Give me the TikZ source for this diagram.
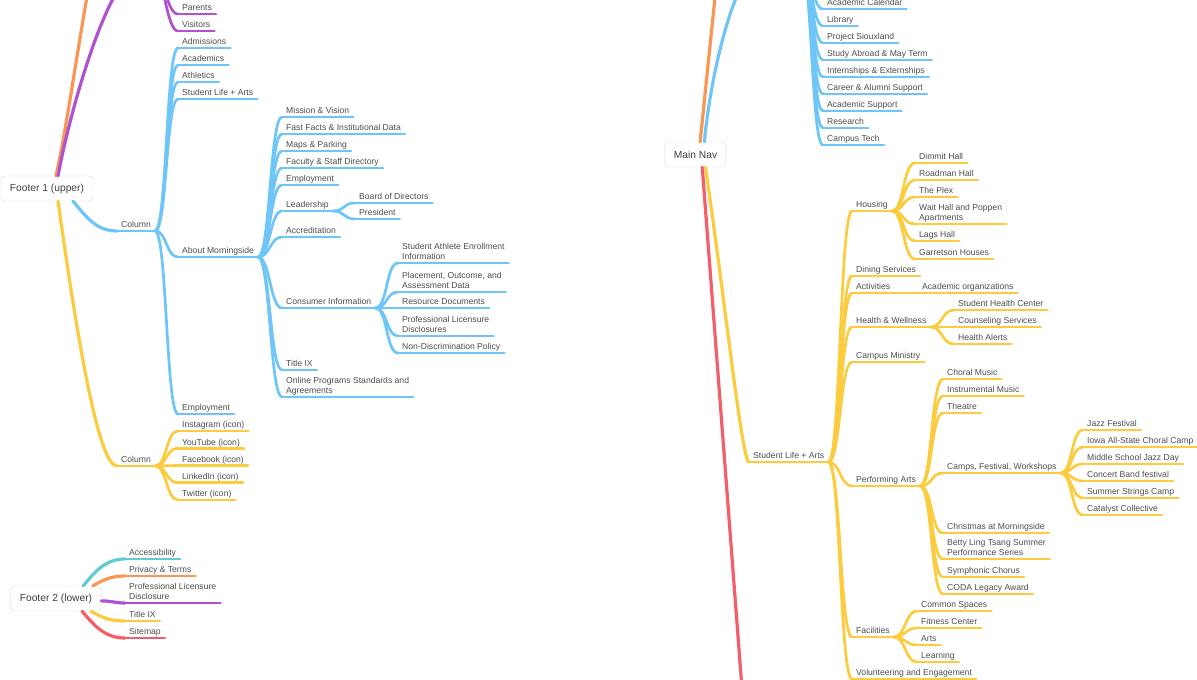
\documentclass[tikz,border=0pt]{standalone}
\usepackage{fontspec}
\setmainfont{Liberation Sans}

\definecolor{cblue}{RGB}{110,198,248}
\definecolor{cyellow}{RGB}{252,204,62}
\definecolor{corange}{RGB}{250,150,84}
\definecolor{cpurple}{RGB}{176,82,208}
\definecolor{cred}{RGB}{243,94,106}
\definecolor{cteal}{RGB}{96,204,208}
\definecolor{ctext}{RGB}{78,78,78}

\tikzset{
  topic/.style={draw=black!15, rounded corners=4pt, fill=white, text=black!75,
                font=\fontsize{10.25}{12}\selectfont, inner xsep=9pt, minimum height=25pt},
  leaf/.style={anchor=south west, text=ctext, font=\fontsize{8.6}{10}\selectfont,
               align=left, inner xsep=4pt, inner ysep=3pt, text depth=0pt,
               append after command={(\tikzlastnode.south west)
                 edge[draw=#1, line width=2.7pt, line cap=round] (\tikzlastnode.south east)}},
  br/.style={draw=#1, line width=2.7pt, line cap=round,
             to path={.. controls ([xshift=12pt]\tikztostart) and ([xshift=-12pt]\tikztotarget)
               .. (\tikztotarget)}},
  trunk/.style={draw=#1, line width=3.2pt, line cap=round},
}

\begin{document}
\begin{tikzpicture}[x=1pt, y=-1pt]
  \useasboundingbox (0,0) rectangle (1197,680);
  \fill[white] (0,0) rectangle (1197,680);
  \clip (0,0) rectangle (1197,680);

  % Footer 1 (upper)
  \node[topic] (f1) at (47,188.5) {Footer 1 (upper)};
  \coordinate (f1or) at (130,-180);
  \coordinate (f1pu) at (140,-30);
  \coordinate (f1pub) at (152,-30);
  \node[leaf=cblue] (col1) at (117,231) {Column};
  \node[leaf=cyellow] (col2) at (117,466) {Column};
  \draw[trunk=corange] (f1.55) .. controls (72,110) and (95,-100) .. (f1or);
  \draw[trunk=cpurple] (f1.49) .. controls (70,110) and (110,-30) .. (f1pu) -- (f1pub);
  \draw[trunk=cblue] (f1.-26) to[out=-50,in=180] (col1.south west);
  \draw[trunk=cyellow] (f1.-49) .. controls (76,330) and (98,466) .. (col2.south west);

  \node[leaf=cpurple] (par) at (178,14) {Parents};
  \node[leaf=cpurple] (vis) at (178,31) {Visitors};
  \foreach \n in {par,vis} \draw[br=cpurple] (f1pub) to (\n.south west);

  \foreach \t [count=\i] in {Admissions, Academics, Athletics, Student Life + Arts}
    \node[leaf=cblue] (cb\i) at (178,{48+17*(\i-1)}) {\t};
  \node[leaf=cblue] (abm) at (178,257) {About Morningside};
  \node[leaf=cblue] (cb5) at (178,414) {Employment};
  \foreach \n in {cb1,cb2,cb3,cb4,abm,cb5} \draw[br=cblue] (col1.south east) to (\n.south west);

  \foreach \y/\t [count=\i] in {117/Mission \& Vision, 134/Fast Facts \& Institutional Data,
      151/Maps \& Parking, 168/Faculty \& Staff Directory, 185/Employment, 237/Accreditation,
      370/Title IX, 397/Online Programs Standards and\\Agreements} {
    \node[leaf=cblue] (am\i) at (282,\y) {\t};
    \draw[br=cblue] (abm.south east) to (am\i.south west);
  }
  \node[leaf=cblue] (lead) at (282,211) {Leadership};
  \node[leaf=cblue] (cons) at (282,308) {Consumer Information};
  \draw[br=cblue] (abm.south east) to (lead.south west);
  \draw[br=cblue] (abm.south east) to (cons.south west);

  \node[leaf=cblue] (bod) at (355,203) {Board of Directors};
  \node[leaf=cblue] (pres) at (355,219) {President};
  \foreach \n in {bod,pres} \draw[br=cblue] (lead.south east) to (\n.south west);

  \foreach \y/\t [count=\i] in {263/Student Athlete Enrollment\\Information,
      292/{Placement, Outcome, and\\Assessment Data}, 308/Resource Documents,
      336/Professional Licensure\\Disclosures, 353/Non-Discrimination Policy} {
    \node[leaf=cblue] (ci\i) at (398,\y) {\t};
    \draw[br=cblue] (cons.south east) to (ci\i.south west);
  }

  \foreach \t [count=\i] in {Instagram (icon), YouTube (icon), Facebook (icon),
      LinkedIn (icon), Twitter (icon)} {
    \node[leaf=cyellow] (so\i) at (178,{431+17.25*(\i-1)}) {\t};
    \draw[br=cyellow] (col2.south east) to (so\i.south west);
  }

  % Footer 2 (lower)
  \node[topic] (f2) at (56,598.5) {Footer 2 (lower)};
  \node[leaf=cteal] (acc) at (125,559) {Accessibility};
  \node[leaf=corange] (priv) at (125,576) {Privacy \& Terms};
  \node[leaf=cpurple] (pld) at (125,603) {Professional Licensure\\Disclosure};
  \node[leaf=cyellow] (tix) at (125,621) {Title IX};
  \node[leaf=cred] (smap) at (125,638) {Sitemap};
  \draw[trunk=cteal] (f2.25) to[out=50,in=180] (acc.south west);
  \draw[trunk=corange] (f2.19) to[out=30,in=180] (priv.south west);
  \draw[trunk=cpurple] (f2.-3) to[out=0,in=180] (pld.south west);
  \draw[trunk=cyellow] (f2.-20) to[out=-30,in=180] (tix.south west);
  \draw[trunk=cred] (f2.-26) to[out=-50,in=180] (smap.south west);

  % Main Nav
  \node[topic] (mn) at (695.5,154.5) {Main Nav};
  \coordinate (mnor) at (724,-90);
  \coordinate (mnbl) at (765,-40);
  \coordinate (mnblb) at (800,-40);
  \coordinate (mnre) at (752,820);
  \node[leaf=cyellow] (sla) at (749,462) {Student Life + Arts};
  \draw[trunk=corange] (mn.70) -- (mnor);
  \draw[trunk=cblue] (mn.55) .. controls (712,60) and (740,-40) .. (mnbl) -- (mnblb);
  \draw[trunk=cred] (mn.-62) -- (mnre);
  \draw[trunk=cyellow] (mn.-52) .. controls (725,300) and (742,462) .. (sla.south west);

  \foreach \t [count=\i] in {Academic Calendar, Library, Project Siouxland,
      Study Abroad \& May Term, Internships \& Externships, Career \& Alumni Support,
      Academic Support, Research, Campus Tech} {
    \node[leaf=cblue] (ac\i) at (823,{9+17*(\i-1)}) {\t};
    \draw[br=cblue] (mnblb) to (ac\i.south west);
  }

  \node[leaf=cyellow] (hous) at (852,211) {Housing};
  \node[leaf=cyellow] (din) at (852,276) {Dining Services};
  \node[leaf=cyellow] (act) at (852,293) {Activities};
  \node[leaf=cyellow] (hw) at (852,327) {Health \& Wellness};
  \node[leaf=cyellow] (cmin) at (852,362) {Campus Ministry};
  \node[leaf=cyellow] (perf) at (852,486) {Performing Arts};
  \node[leaf=cyellow] (fac) at (852,637) {Facilities};
  \node[leaf=cyellow] (vol) at (852,679) {Volunteering and Engagement};
  \foreach \n in {hous,din,act,hw,cmin,perf,fac,vol}
    \draw[br=cyellow] (sla.south east) to (\n.south west);

  \foreach \y/\t [count=\i] in {163/Dimmit Hall, 180/Roadman Hall, 197/The Plex,
      224/Wait Hall and Poppen\\Apartments, 241/Lags Hall, 259/Garretson Houses} {
    \node[leaf=cyellow] (ho\i) at (915,\y) {\t};
    \draw[br=cyellow] (hous.south east) to (ho\i.south west);
  }

  \node[leaf=cyellow] (aorg) at (918,293) {Academic organizations};
  \draw[br=cyellow] (act.south east) to (aorg.south west);

  \foreach \y/\t [count=\i] in {310/Student Health Center, 327/Counseling Services,
      344/Health Alerts} {
    \node[leaf=cyellow] (he\i) at (954,\y) {\t};
    \draw[br=cyellow] (hw.south east) to (he\i.south west);
  }

  \node[leaf=cyellow] (camp) at (943,473) {Camps, Festival, Workshops};
  \draw[br=cyellow] (perf.south east) to (camp.south west);
  \foreach \y/\t [count=\i] in {379/Choral Music, 396/Instrumental Music, 413/Theatre,
      533/Christmas at Morningside, 559/Betty Ling Tsang Summer\\Performance Series,
      577/Symphonic Chorus, 594/CODA Legacy Award} {
    \node[leaf=cyellow] (pa\i) at (943,\y) {\t};
    \draw[br=cyellow] (perf.south east) to (pa\i.south west);
  }

  \foreach \t [count=\i] in {Jazz Festival, Iowa All-State Choral Camp,
      Middle School Jazz Day, Concert Band festival, Summer Strings Camp,
      Catalyst Collective} {
    \node[leaf=cyellow] (cf\i) at (1083,{430+17*(\i-1)}) {\t};
    \draw[br=cyellow] (camp.south east) to (cf\i.south west);
  }

  \foreach \t [count=\i] in {Common Spaces, Fitness Center, Arts, Learning} {
    \node[leaf=cyellow] (fa\i) at (917,{611+17*(\i-1)}) {\t};
    \draw[br=cyellow] (fac.south east) to (fa\i.south west);
  }
\end{tikzpicture}
\end{document}
